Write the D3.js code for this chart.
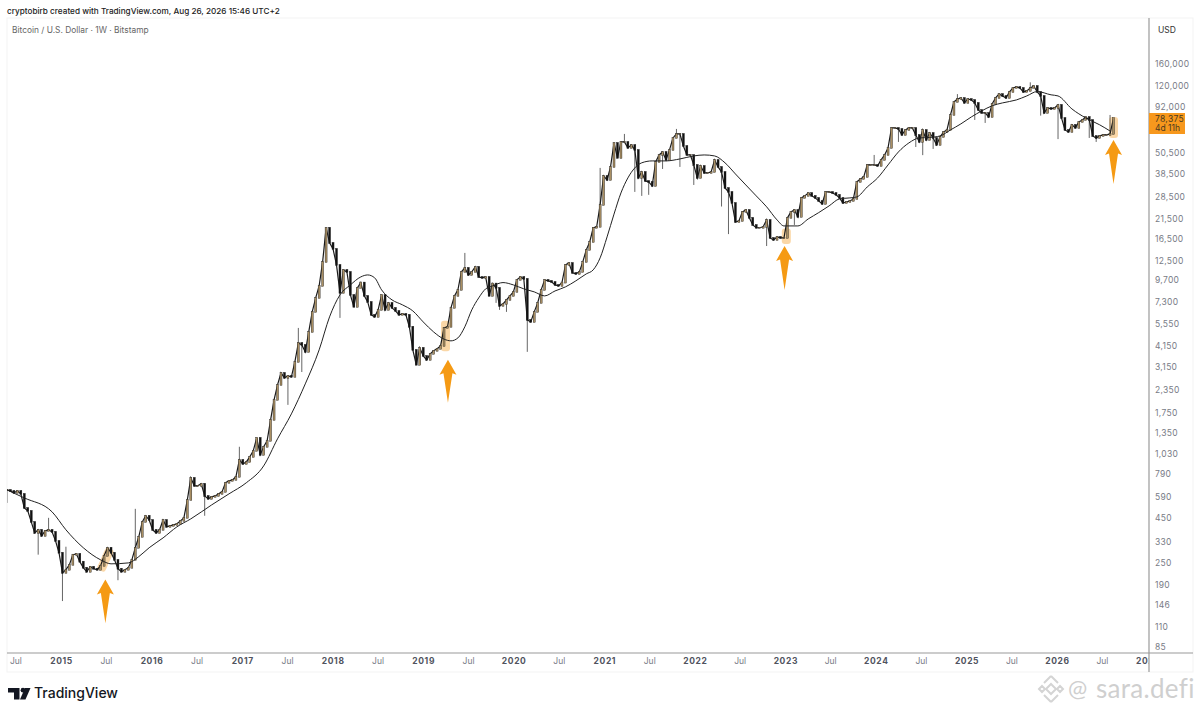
<!DOCTYPE html>
<html>
<head>
<meta charset="utf-8">
<script src="https://cdn.jsdelivr.net/npm/d3@7"></script>
<style>
  html, body { margin: 0; background: #fff; }
  svg { display: block; }
  text { font-family: Inter, "Liberation Sans", sans-serif; }
</style>
</head>
<body>
<div id="chart"></div>
<script>
// closes, one bar every two weeks
const closes = [
  640,632,616,632,608,507,488,423,367,382,353,377,382,372,331,284,219,228,243,277,
  280,253,234,222,237,231,228,240,273,303,284,259,231,222,228,234,259,303,349,423,
  458,434,382,367,382,434,397,402,407,413,429,446,562,748,675,675,693,592,570,585,
  592,608,624,702,720,729,758,944,896,919,981,1061,1255,1007,1118,1207,1584,2051,2490,2907,
  2727,2799,2763,3353,4285,4176,3813,4937,6400,7670,8956,12210,19000,15620,14450,11750,8180,11016,10735,7970,
  6830,8730,9350,7870,7280,6160,6000,6568,7970,6568,7190,6740,6480,6160,6240,6160,5280,3916,3230,4020,
  3620,3441,3720,3870,3970,4120,5210,5280,6740,7870,8506,10735,11310,10320,10735,11460,10060,9940,10060,7870,
  9230,8730,6920,7090,7474,7870,8290,9680,10060,9810,5771,5620,6400,7190,8506,9680,9560,9430,9070,8956,
  9350,11750,12050,10600,10460,10735,12210,14266,15810,19000,19250,25520,37140,35267,41730,56900,46860,57650,57650,53350,
  55440,51980,36190,39100,34810,34360,32620,44500,48720,50650,45675,51980,60700,63930,63930,54730,48720,48720,42820,36190,
  42270,38590,38590,39100,45675,41730,39100,31790,30200,26180,20470,20740,23320,23928,21600,19700,19000,19000,19250,21026,
  16660,16236,16880,16660,16660,21600,23320,23928,21880,27950,28690,29800,28690,27950,26880,25860,30200,30200,29800,29080,
  27950,26180,26520,26880,27590,34360,35720,36660,42820,42820,42820,42270,45675,48720,53350,69100,69100,68200,63100,67319,
  69100,69100,63100,57650,67319,59154,64740,60700,55440,61500,65600,67319,81730,96700,100500,101800,95500,100500,99220,95500,
  87186,83900,83900,79600,94300,101800,107200,104500,101800,110000,115900,117400,115900,110000,111500,115900,118900,110000,104500,83900,
  89500,88350,89500,93100,78600,67319,65600,71940,69100,74640,76611,79600,76611,62270,60700,62300,63100,63100,63930,78375
];
const firstBar = "2014-05-28";
const lastBar = "2026-08-17";

// sparse wicks: bar number and price of the high / low where one shows clearly
const highBars = [12,17,37,67,84,132,171,178,193,250,274,295,318];
const highPrices = [446,307,501,1118,5200,13720,41200,63930,68200,48720,107000,124600,81700];
const lowBars = [0,9,16,32,57,81,85,96,141,142,144,150,172,181,183,185,189,194,198,206,208,219,227,257,262,264,267,279,282,298,303,312,314];
const lowPrices = [541,277,152,199,458,1922,2940,5920,7190,6568,6400,3816,28690,30200,28690,29080,40640,41730,33040,25000,17500,15000,19700,57650,54000,48600,52670,76600,73700,81000,59800,60700,57650];

// moving average line
const maBars = [0,5,13,17,22,27,30,35,38,41,45,49,53,59,64,69,74,78,82,86,90,93,96,99,102,104,106,108,111,114,117,120,123,126,128,130,132,134,136,138,140,143,146,149,152,155,158,161,164,167,169,171,173,175,177,179,181,183,186,190,194,198,201,204,207,210,213,216,219,222,224,228,231,234,237,240,243,245,248,251,254,257,260,263,266,269,272,275,278,281,284,287,291,294,297,301,303,307,311,315,318];
const maValues = [640,577,482,382,303,259,246,249,270,303,344,397,440,527,608,702,873,1239,1711,2522,3916,6000,7970,9070,10060,10320,9940,8506,7474,7010,6480,5620,4937,4500,4400,4570,5280,6568,7670,8620,8956,9350,9070,8620,8290,7870,8390,8840,9560,10460,11016,12870,16880,22660,29800,36190,41200,44000,45100,45100,46260,48100,48720,48100,44000,38100,33040,28690,24900,21026,19450,19450,21300,23100,25200,27590,27950,28300,32200,36190,42820,50650,56900,60700,61100,62300,67319,72800,79600,86100,92000,95500,99220,104500,110600,106000,104500,88350,78600,71940,66400];

// axis labels
const priceTicks = [160000,120000,92000,50500,38500,28500,21500,16500,12500,9700,7300,5550,4150,3150,2350,1750,1350,1030,790,590,450,330,250,190,146,110,85];
const timeTicks = ["2014-07-01","2015-01-01","2015-07-01","2016-01-01","2016-07-01","2017-01-01","2017-07-01","2018-01-01","2018-07-01","2019-01-01","2019-07-01","2020-01-01","2020-07-01","2021-01-01","2021-07-01","2022-01-01","2022-07-01","2023-01-01","2023-07-01","2024-01-01","2024-07-01","2025-01-01","2025-07-01","2026-01-01","2026-07-01","2027-01-01"];

// orange annotations
const arrowDates = ["2015-06-29","2019-04-11","2022-12-29","2026-08-17"];
const arrowTips = [201,3441,15020,59154];
const arrowTails = [114,1973,8506,33480];
const glowDates = ["2015-06-29","2019-04-01","2023-01-05","2026-08-17"];
const glowTops = [303,5700,18800,79600];
const glowBottoms = [222,3850,15400,60700];
const glowTilts = [24,0,0,0];

const lastPrice = "78,375";
const countdown = "4d 11h";

const width = 1200, height = 714;
const orange = "#f59a14";

let svg = d3.select("#chart").append("svg")
  .attr("width", width)
  .attr("height", height);

// date -> x, calibrated on the 2015 and 2026 labels
const x = d3.scaleUtc()
  .domain([new Date("2015-01-01"), new Date("2026-01-01")])
  .range([61, 1057]);

// log price scale, calibrated on the 160,000 and 85 labels
const y = d3.scaleLog()
  .domain([160000, 85])
  .range([63, 646]);

const t0 = +new Date(firstBar), t1 = +new Date(lastBar);
const barX = i => x(new Date(t0 + i * (t1 - t0) / (closes.length - 1)));

// frame
svg.append("rect").attr("x", 7).attr("y", 18).attr("width", 1186).attr("height", 654)
  .attr("fill", "none").attr("stroke", "#f3f3f3");

svg.append("clipPath").attr("id", "plot")
  .append("rect").attr("x", 7).attr("y", 18).attr("width", 1142).attr("height", 635);
let plot = svg.append("g").attr("clip-path", "url(#plot)");

// highlights behind the candles
glowDates.forEach((d, i) => {
  let cx = x(new Date(d));
  let top = y(glowTops[i]), bottom = y(glowBottoms[i]);
  plot.append("rect")
    .attr("x", cx - 4.5).attr("y", top)
    .attr("width", 9).attr("height", bottom - top)
    .attr("rx", 3)
    .attr("fill", "#f8c98a")
    .attr("opacity", 0.75)
    .attr("transform", "rotate(" + glowTilts[i] + " " + cx + " " + (top + bottom) / 2 + ")");
});

// wicks
const highByBar = new Map(highBars.map((b, i) => [b, highPrices[i]]));
const lowByBar = new Map(lowBars.map((b, i) => [b, lowPrices[i]]));
const bars = closes.map((c, i) => {
  let o = i ? closes[i - 1] : c;
  return {
    i: i, o: o, c: c,
    h: highByBar.get(i) || Math.max(o, c),
    l: lowByBar.get(i) || Math.min(o, c)
  };
});

plot.selectAll(".wick").data(bars).enter().append("line")
  .attr("class", "wick")
  .attr("x1", d => barX(d.i)).attr("x2", d => barX(d.i))
  .attr("y1", d => y(d.h)).attr("y2", d => y(d.l))
  .attr("stroke", "#666")
  .attr("stroke-width", 1);

// dark line through the closes so the bars read as one continuous trace
plot.append("path")
  .attr("d", d3.line().x((d, i) => barX(i)).y(d => y(d))(closes))
  .attr("fill", "none")
  .attr("stroke", "#1a1a1a")
  .attr("stroke-width", 1.2);

// candle bodies
plot.selectAll(".body").data(bars).enter().append("rect")
  .attr("class", "body")
  .attr("x", d => barX(d.i) - 1)
  .attr("width", 2)
  .attr("y", d => y(Math.max(d.o, d.c)) - 0.5)
  .attr("height", d => Math.abs(y(d.o) - y(d.c)) + 1)
  .attr("fill", d => d.c >= d.o ? "#a98f63" : "#111")
  .attr("stroke", "#222")
  .attr("stroke-width", 0.4);

// moving average
plot.append("path")
  .attr("d", d3.line()
    .x((d, i) => barX(maBars[i]))
    .y(d => y(d))
    .curve(d3.curveMonotoneX)(maValues))
  .attr("fill", "none")
  .attr("stroke", "#222")
  .attr("stroke-width", 1);

// arrows: pointed tail, wide head
arrowDates.forEach((d, i) => {
  let cx = x(new Date(d)), tip = y(arrowTips[i]), tail = y(arrowTails[i]);
  plot.append("path")
    .attr("d", "M" + cx + "," + tip + "L" + (cx + 8.5) + "," + (tip + 15) + "L" + (cx + 4.5) + "," + (tip + 13.5)
      + "L" + cx + "," + tail + "L" + (cx - 4.5) + "," + (tip + 13.5) + "L" + (cx - 8.5) + "," + (tip + 15) + "Z")
    .attr("fill", orange);
});

// price axis
let yAxis = svg.append("g")
  .attr("transform", "translate(1149,0.5)")
  .call(d3.axisRight(y).tickValues(priceTicks).tickSize(0).tickPadding(6).tickFormat(d3.format(",")));
yAxis.select(".domain").remove();
yAxis.selectAll("text")
  .attr("fill", "#787b86")
  .style("font-size", "8.5px")
  .style("letter-spacing", "0.3px");

// time axis, the last label is cut off by the price axis
svg.append("clipPath").attr("id", "timeClip")
  .append("rect").attr("x", 7).attr("y", 0).attr("width", 1142).attr("height", 20);
let xAxis = svg.append("g")
  .attr("transform", "translate(0,653)")
  .attr("clip-path", "url(#timeClip)")
  .call(d3.axisBottom(x)
    .tickValues(timeTicks.map(d => new Date(d)))
    .tickSize(0).tickPadding(5)
    .tickFormat(d => d.getUTCMonth() === 6 ? "Jul" : d.getUTCFullYear()));
xAxis.select(".domain").remove();
xAxis.selectAll("text")
  .attr("fill", d => d.getUTCMonth() === 6 ? "#787b86" : "#50535e")
  .style("font-size", "8.5px")
  .style("font-weight", d => d.getUTCMonth() === 6 ? 400 : 700)
  .style("letter-spacing", d => d.getUTCMonth() === 6 ? "0" : "0.6px");

// axis lines
svg.append("line").attr("x1", 7).attr("x2", 1193).attr("y1", 653).attr("y2", 653)
  .attr("stroke", "#9a9a9a").attr("stroke-width", 1.2);
svg.append("line").attr("x1", 1149).attr("x2", 1149).attr("y1", 18).attr("y2", 672)
  .attr("stroke", "#9a9a9a").attr("stroke-width", 1.2);

// last price tag
svg.append("rect").attr("x", 1149).attr("y", 113).attr("width", 36).attr("height", 21).attr("fill", "#f7981d");
svg.append("text").attr("x", 1155).attr("y", 121.5).text(lastPrice)
  .attr("fill", "#4a3a20").style("font-size", "8.5px").style("letter-spacing", "0.3px");
svg.append("text").attr("x", 1155).attr("y", 131).text(countdown)
  .attr("fill", "#4a3a20").style("font-size", "8.5px");

svg.append("text").attr("x", 1158).attr("y", 33).text("USD")
  .attr("fill", "#333").style("font-size", "8.5px");

// titles
svg.append("text").attr("x", 7).attr("y", 14)
  .text("cryptobirb created with TradingView.com, Aug 26, 2026 15:46 UTC+2")
  .attr("fill", "#222").style("font-size", "8.2px").style("font-weight", 500);
svg.append("text").attr("x", 12).attr("y", 33)
  .text("Bitcoin / U.S. Dollar \u00b7 1W \u00b7 Bitstamp")
  .attr("fill", "#666").style("font-size", "8.4px");

// TradingView logo
let logo = svg.append("g").attr("fill", "#131722");
logo.append("path").attr("d", "M8,688H19.5V699.5H14V692.5H8Z");
logo.append("circle").attr("cx", 23).attr("cy", 690.2).attr("r", 2.4);
logo.append("path").attr("d", "M25,688H30.5L25.5,699.5H20Z");
svg.append("text").attr("x", 34).attr("y", 698).text("TradingView")
  .attr("fill", "#131722").style("font-size", "14px").style("font-weight", 500);

// watermark
let mark = svg.append("g").attr("fill", "none").attr("stroke", "#d4d4d4").attr("stroke-width", 2);
mark.append("path").attr("d", "M1051,676L1058,683M1051,676L1044,683M1051,702L1058,695M1051,702L1044,695");
mark.append("path").attr("d", "M1051,684L1056,689L1051,694L1046,689Z");
mark.append("path").attr("d", "M1039,689L1042,686L1045,689L1042,692ZM1057,689L1060,686L1063,689L1060,692Z");
svg.append("text").attr("x", 1068).attr("y", 697).text("@")
  .attr("fill", "#cfcfcf").style("font-size", "23px").style("font-family", "Lato");
svg.append("text").attr("x", 1096).attr("y", 698).text("sara.defi")
  .attr("fill", "#cfcfcf").style("font-size", "26px").style("font-family", "Lato").style("font-weight", 400)
  .style("letter-spacing", "0.3px");
</script>
</body>
</html>
